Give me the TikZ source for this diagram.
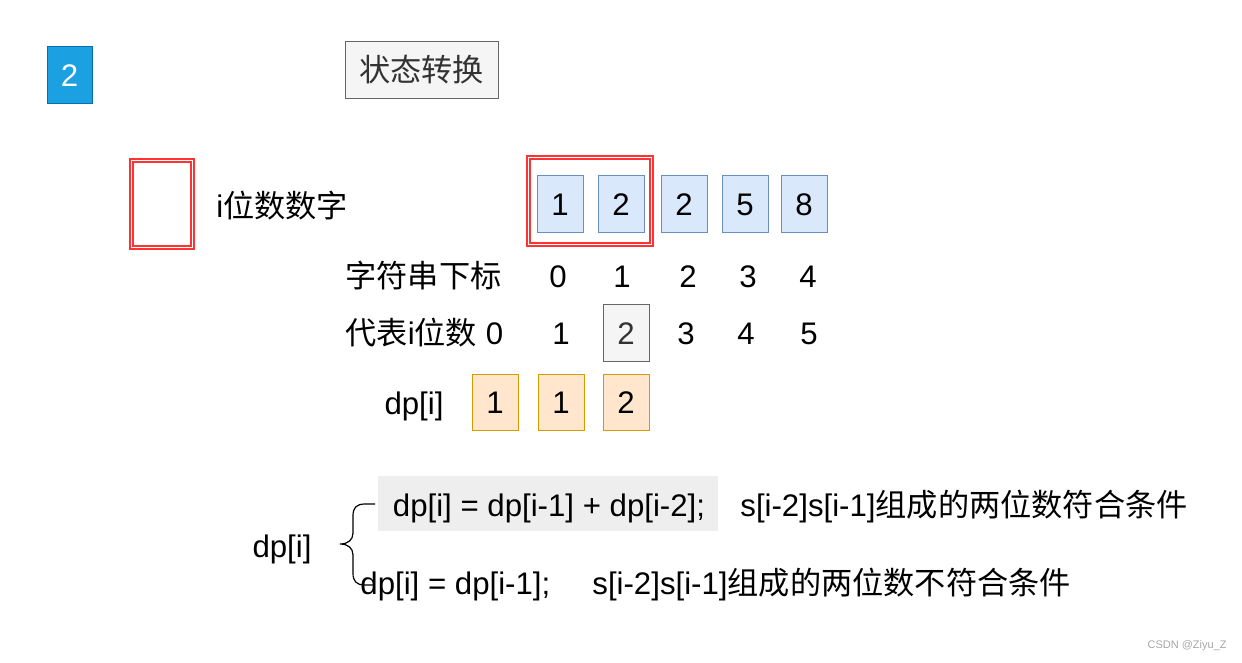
\documentclass[tikz,border=0pt]{standalone}
\usepackage{fontspec}
\setmainfont{Liberation Sans}
\newfontfamily\cjk{Noto Sans CJK SC}

\definecolor{boxblue}{HTML}{1BA1E2}
\definecolor{boxblueline}{HTML}{006EAF}
\definecolor{cellblue}{HTML}{DAE8FC}
\definecolor{cellblueline}{HTML}{6C8EBF}
\definecolor{cellorange}{HTML}{FFE6CC}
\definecolor{cellorangeline}{HTML}{D79B00}
\definecolor{boxgray}{HTML}{F5F5F5}
\definecolor{boxgrayline}{HTML}{666666}
\definecolor{textgray}{HTML}{333333}
\definecolor{notegray}{HTML}{EEEEEE}
\definecolor{markred}{HTML}{FF3333}

\begin{document}
\begin{tikzpicture}[x=0.5pt,y=-0.5pt,
    txt/.style={inner sep=0pt, text height=11pt, text depth=0pt, font=\fontsize{15.6}{18}\selectfont},
    lbl/.style={txt, anchor=west},
    cell/.style={txt, draw, line width=0.5pt, minimum width=23pt, minimum height=28.5pt},
    bluecell/.style={cell, draw=cellblueline, fill=cellblue},
    orangecell/.style={cell, draw=cellorangeline, fill=cellorange},
    graycell/.style={cell, draw=boxgrayline, fill=boxgray, text=textgray},
    redmark/.style={draw=markred, line width=0.65pt, double=white, double distance=0.9pt, inner sep=0pt}]

    \useasboundingbox (0,0) rectangle (1242,663);

    % title boxes
    \node[cell, draw=boxblueline, fill=boxblue, text=white, minimum width=22.5pt] (stepbox) at (69.5,75.5) {2};
    \node[graycell, minimum width=76.5pt] (title) at (421.5,70.5) {\cjk 状态转换};

    % legend
    \node[redmark, minimum width=30.5pt, minimum height=43.5pt] (legend) at (162,204) {};
    \node[lbl] (legendtext) at (216,207) {i{\cjk 位数数字}};

    % the digits of the string
    \node[redmark, minimum width=61.5pt, minimum height=43.5pt] (pair) at (590,201) {};
    \node[bluecell] (d0) at (560,204.5) {1};
    \node[bluecell] (d1) at (621,204.5) {2};
    \node[bluecell] (d2) at (684,204.5) {2};
    \node[bluecell] (d3) at (745,204.5) {5};
    \node[bluecell] (d4) at (804,204.5) {8};

    % string index
    \node[lbl] (idxtext) at (345,277) {\cjk 字符串下标};
    \node[txt] (idx0) at (558,277) {0};
    \node[txt] (idx1) at (622,277) {1};
    \node[txt] (idx2) at (688,277) {2};
    \node[txt] (idx3) at (748,277) {3};
    \node[txt] (idx4) at (808,277) {4};

    % number of digits
    \node[lbl] (lentext) at (345,333) {{\cjk 代表}i{\cjk 位数} 0};
    \node[txt] (len1) at (561,333) {1};
    \node[graycell, minimum height=28pt] (len2) at (626,333) {2};
    \node[txt] (len3) at (686,333) {3};
    \node[txt] (len4) at (746,333) {4};
    \node[txt] (len5) at (809,333) {5};

    % dp values
    \node[txt] (dptext) at (414,403) {dp[i]};
    \node[orangecell, minimum height=28pt] (dp0) at (495,402) {1};
    \node[orangecell, minimum height=28pt] (dp1) at (561,402) {1};
    \node[orangecell, minimum height=28pt] (dp2) at (626,402) {2};

    % transition
    \node[txt] (dpleft) at (282,546) {dp[i]};
    \node[fill=notegray, minimum width=170pt, minimum height=27.5pt] (caseone) at (548,503.5) {};
    \node[txt] (caseonetext) at (549,505.5) {dp[i] = dp[i-1] + dp[i-2];};
    \node[lbl] (condone) at (740,505.5) {s[i-2]s[i-1]{\cjk 组成的两位数符合条件}};
    \node[lbl] (casetwo) at (360,583) {dp[i] = dp[i-1];};
    \node[lbl] (condtwo) at (592,583) {s[i-2]s[i-1]{\cjk 组成的两位数不符合条件}};

    % the brace
    \coordinate (brtop) at (375,504);
    \coordinate (brbot) at (373,585);
    \draw[line width=0.6pt] (brtop) -- ++(-10,0) .. controls ++(-9,0) and ++(0,-8) .. ++(-12,12)
        -- ++(0,17) .. controls ++(0,7) and ++(8,0) .. ++(-13,11)
        .. controls ++(8,0) and ++(0,-7) .. ++(13,11)
        -- ++(0,18) .. controls ++(0,8) and ++(-9,0) .. ++(12,12) -- (brbot);

    % watermark
    \node[inner sep=0pt, anchor=east, text=gray!70, font=\fontsize{5.5}{6}\selectfont] (mark) at (1227,646) {CSDN @Ziyu\_Z};

\end{tikzpicture}
\end{document}
